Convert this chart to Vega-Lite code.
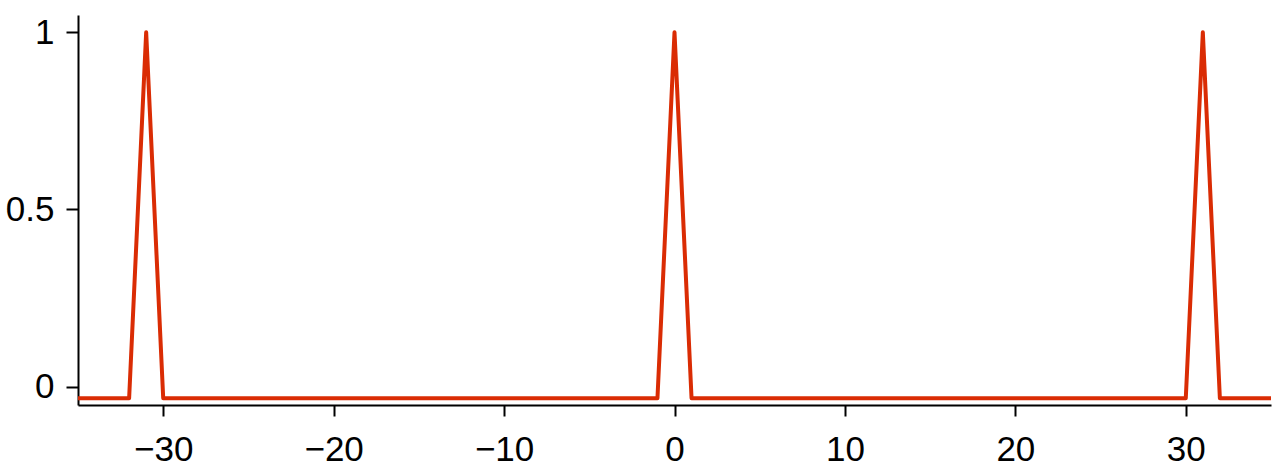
{
  "$schema": "https://vega.github.io/schema/vega-lite/v6.json",
  "width": 1193,
  "height": 390,
  "autosize": "none",
  "padding": {"left": 78, "top": 15, "right": 5, "bottom": 71},
  "background": "white",
  "config": {
    "view": {"stroke": null},
    "axis": {
      "labelFont": "Liberation Sans",
      "labelFontSize": 35,
      "labelColor": "black",
      "domainColor": "black",
      "domainWidth": 2,
      "tickColor": "black",
      "tickWidth": 2,
      "grid": false,
      "title": null
    }
  },
  "data": {
    "values": [
      {"lag": -35, "r": -0.033}, {"lag": -34, "r": -0.033}, {"lag": -33, "r": -0.033},
      {"lag": -32, "r": -0.033}, {"lag": -31, "r": 1}, {"lag": -30, "r": -0.033},
      {"lag": -29, "r": -0.033}, {"lag": -28, "r": -0.033}, {"lag": -27, "r": -0.033},
      {"lag": -26, "r": -0.033}, {"lag": -25, "r": -0.033}, {"lag": -24, "r": -0.033},
      {"lag": -23, "r": -0.033}, {"lag": -22, "r": -0.033}, {"lag": -21, "r": -0.033},
      {"lag": -20, "r": -0.033}, {"lag": -19, "r": -0.033}, {"lag": -18, "r": -0.033},
      {"lag": -17, "r": -0.033}, {"lag": -16, "r": -0.033}, {"lag": -15, "r": -0.033},
      {"lag": -14, "r": -0.033}, {"lag": -13, "r": -0.033}, {"lag": -12, "r": -0.033},
      {"lag": -11, "r": -0.033}, {"lag": -10, "r": -0.033}, {"lag": -9, "r": -0.033},
      {"lag": -8, "r": -0.033}, {"lag": -7, "r": -0.033}, {"lag": -6, "r": -0.033},
      {"lag": -5, "r": -0.033}, {"lag": -4, "r": -0.033}, {"lag": -3, "r": -0.033},
      {"lag": -2, "r": -0.033}, {"lag": -1, "r": -0.033}, {"lag": 0, "r": 1},
      {"lag": 1, "r": -0.033}, {"lag": 2, "r": -0.033}, {"lag": 3, "r": -0.033},
      {"lag": 4, "r": -0.033}, {"lag": 5, "r": -0.033}, {"lag": 6, "r": -0.033},
      {"lag": 7, "r": -0.033}, {"lag": 8, "r": -0.033}, {"lag": 9, "r": -0.033},
      {"lag": 10, "r": -0.033}, {"lag": 11, "r": -0.033}, {"lag": 12, "r": -0.033},
      {"lag": 13, "r": -0.033}, {"lag": 14, "r": -0.033}, {"lag": 15, "r": -0.033},
      {"lag": 16, "r": -0.033}, {"lag": 17, "r": -0.033}, {"lag": 18, "r": -0.033},
      {"lag": 19, "r": -0.033}, {"lag": 20, "r": -0.033}, {"lag": 21, "r": -0.033},
      {"lag": 22, "r": -0.033}, {"lag": 23, "r": -0.033}, {"lag": 24, "r": -0.033},
      {"lag": 25, "r": -0.033}, {"lag": 26, "r": -0.033}, {"lag": 27, "r": -0.033},
      {"lag": 28, "r": -0.033}, {"lag": 29, "r": -0.033}, {"lag": 30, "r": -0.033},
      {"lag": 31, "r": 1}, {"lag": 32, "r": -0.033}, {"lag": 33, "r": -0.033},
      {"lag": 34, "r": -0.033}, {"lag": 35, "r": -0.033}
    ]
  },
  "mark": {"type": "line", "color": "#DA2C04", "strokeWidth": 4, "strokeJoin": "round"},
  "encoding": {
    "x": {
      "field": "lag",
      "type": "quantitative",
      "scale": {"domain": [-35, 35], "nice": false, "zero": false},
      "axis": {"values": [-30, -20, -10, 0, 10, 20, 30], "tickSize": 11, "labelPadding": 16, "labelFlush": false}
    },
    "y": {
      "field": "r",
      "type": "quantitative",
      "scale": {"domain": [-0.052, 1.049], "nice": false, "zero": false},
      "axis": {"values": [0, 0.5, 1], "format": "~g", "tickSize": 12, "labelPadding": 12, "labelFlush": false}
    }
  }
}
